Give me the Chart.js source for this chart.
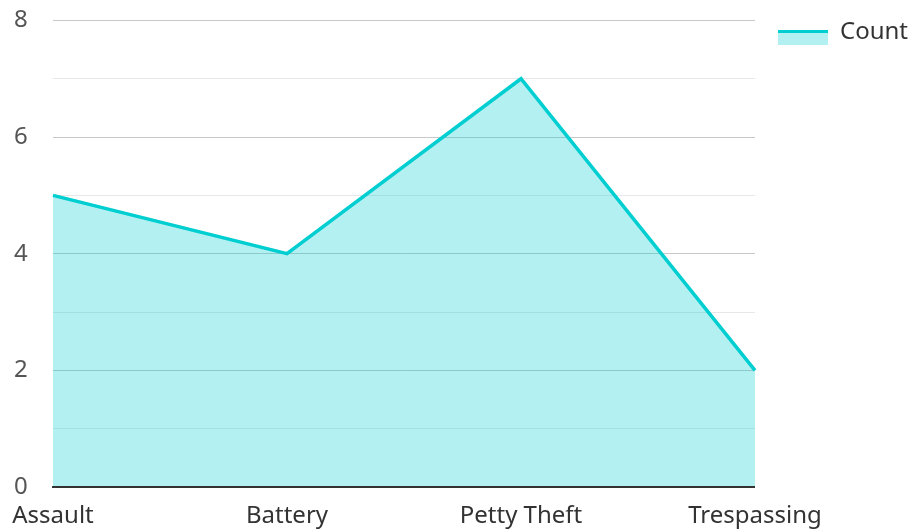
<!DOCTYPE html>
<html>
<head>
<meta charset="utf-8">
<script src="https://cdn.jsdelivr.net/npm/chart.js@4/dist/chart.umd.min.js"></script>
<style>
  html, body { margin: 0; padding: 0; background: #fff; }
  #wrap { width: 913px; height: 531px; }
</style>
</head>
<body>
<div id="wrap"><canvas id="myChart"></canvas></div>
<script>
const categories = ['Assault', 'Battery', 'Petty Theft', 'Trespassing'];
const counts = [5, 4, 7, 2];

// legend icon: line on top of a filled box, sitting a bit below the text middle
const icon = document.createElement('canvas');
icon.width = 53;
icon.height = 26;
const ictx = icon.getContext('2d');
ictx.fillStyle = 'rgba(0, 206, 209, 0.3)';
ictx.fillRect(3, 11, 50, 15);
ictx.fillStyle = 'rgb(0, 206, 209)';
ictx.fillRect(3, 11, 50, 3);

const data = {
    labels: categories,
    datasets: [{
        label: 'Count',
        data: counts,
        borderColor: 'rgb(0, 206, 209)',
        backgroundColor: 'rgba(0, 206, 209, 0.3)',
        borderWidth: 3.5,
        fill: 'origin',
        tension: 0,
        pointRadius: 0,
        pointHoverRadius: 0
    }]
};

const config = {
    type: 'line',
    data: data,
    options: {
        responsive: true,
        maintainAspectRatio: false,
        animation: false,
        layout: { padding: { left: 14, right: -5, top: 0, bottom: 0 } },
        plugins: {
            legend: {
                position: 'right',
                align: 'start',
                labels: {
                    usePointStyle: true,
                    pointStyle: icon,
                    pointStyleWidth: 53,
                    color: '#333',
                    font: { family: 'Noto Sans', size: 24 },
                    padding: 20
                }
            },
            tooltip: { enabled: false }
        },
        scales: {
            x: {
                offset: false,
                afterFit: (scale) => { scale.height = 44; },
                grid: { display: false, drawTicks: false },
                border: { color: '#333', width: 2, z: 1 },
                ticks: {
                    color: '#333',
                    font: { family: 'Noto Sans', size: 24, lineHeight: 1.45 },
                    padding: 12,
                    maxRotation: 0
                }
            },
            y: {
                min: 0,
                max: 8,
                border: { display: false },
                afterFit: (scale) => { scale.width = 39; },
                grid: {
                    drawTicks: false,
                    color: (ctx) => ctx.tick && ctx.tick.value % 2 === 0 ? '#c8c8c8' : '#e8e8e8',
                    lineWidth: 1
                },
                ticks: {
                    stepSize: 1,
                    color: '#555',
                    crossAlign: 'far',
                    font: { family: 'Noto Sans', size: 24 },
                    padding: 6,
                    callback: (v) => v % 2 === 0 ? v : ''
                }
            }
        }
    }
};

new Chart(document.getElementById('myChart'), config);
</script>
</body>
</html>
